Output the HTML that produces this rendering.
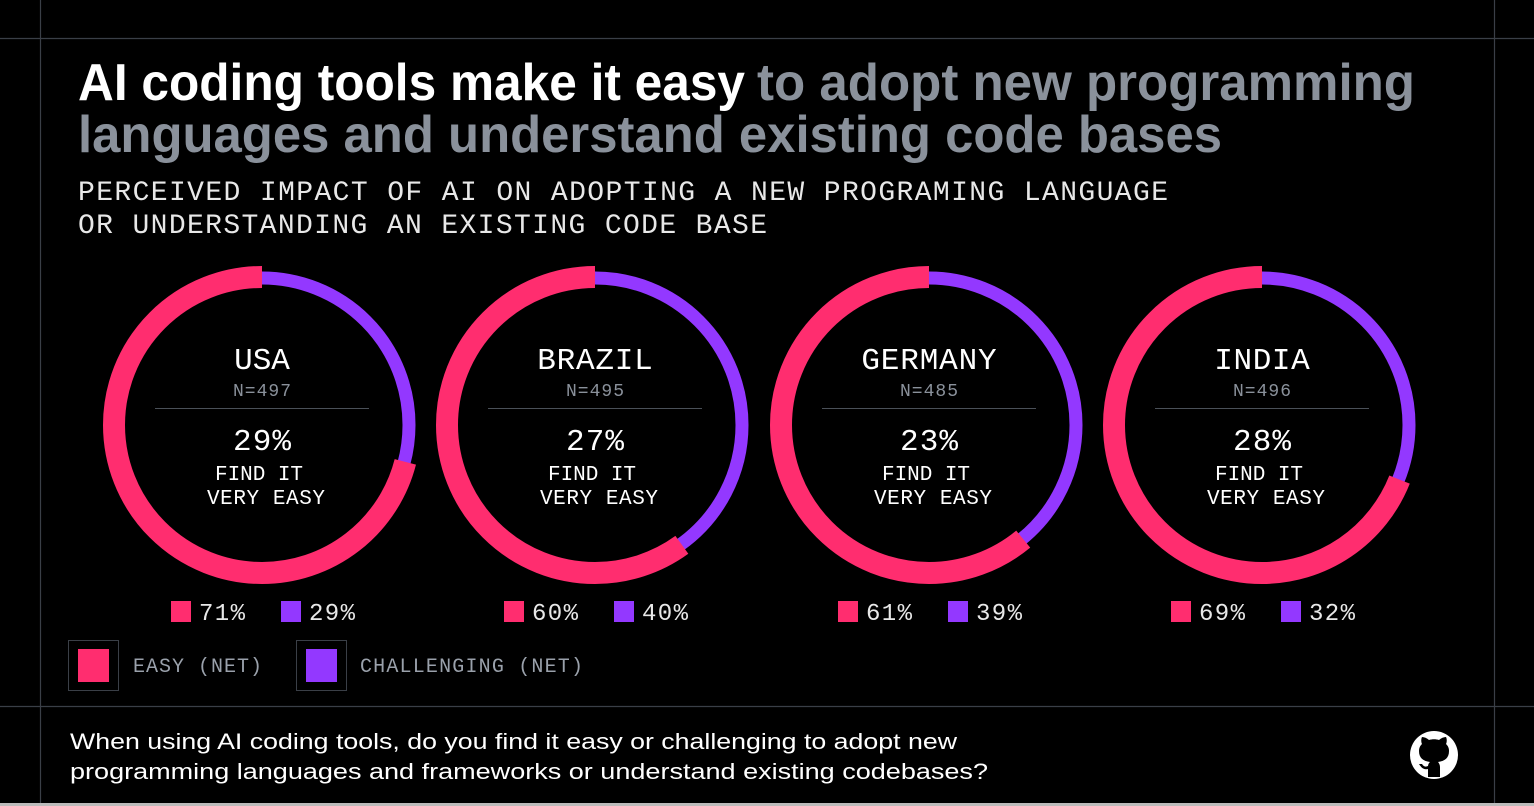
<!DOCTYPE html>
<html><head><meta charset="utf-8"><style>
html,body{margin:0;padding:0;background:#000;}
svg{display:block}
.m{font-family:"Liberation Mono","DejaVu Sans Mono",monospace}
.s{font-family:"Liberation Sans",sans-serif}
</style></head><body>
<svg width="1534" height="806" viewBox="0 0 1534 806" xmlns="http://www.w3.org/2000/svg">
<rect width="1534" height="806" fill="#000"/>
<g stroke="#3a3f47" stroke-width="1.2">
<line x1="0" y1="38.5" x2="1534" y2="38.5"/>
<line x1="40.5" y1="0" x2="40.5" y2="806"/>
<line x1="1494.5" y1="0" x2="1494.5" y2="806"/>
<line x1="0" y1="706.5" x2="1534" y2="706.5"/>
</g>
<rect x="0" y="803" width="1534" height="3" fill="#bbb"/>
<text class="s" x="78" y="100" font-size="52" font-weight="bold" fill="#fff" textLength="667" lengthAdjust="spacingAndGlyphs">AI coding tools make it easy</text>
<text class="s" x="757" y="100" font-size="52" font-weight="bold" fill="#8a919b" textLength="658" lengthAdjust="spacingAndGlyphs">to adopt new programming</text>
<text class="s" x="78" y="152" font-size="52" font-weight="bold" fill="#8a919b" textLength="1144" lengthAdjust="spacingAndGlyphs">languages and understand existing code bases</text>
<text class="m" x="78" y="200" font-size="28" fill="#e8e8e8" textLength="1090" lengthAdjust="spacing">PERCEIVED IMPACT OF AI ON ADOPTING A NEW PROGRAMING LANGUAGE</text>
<text class="m" x="78" y="233" font-size="28" fill="#e8e8e8" textLength="689" lengthAdjust="spacing">OR UNDERSTANDING AN EXISTING CODE BASE</text>

<g id="donuts"></g>

<g>
<rect x="68.5" y="640.5" width="50" height="50" fill="none" stroke="#3a3f47"/>
<rect x="78" y="649" width="31" height="33" fill="#ff2d6f"/>
<text class="m" x="133" y="672" font-size="20" fill="#9aa1ab" textLength="129" lengthAdjust="spacing">EASY (NET)</text>
<rect x="296.5" y="640.5" width="50" height="50" fill="none" stroke="#3a3f47"/>
<rect x="306" y="649" width="31" height="33" fill="#9338ff"/>
<text class="m" x="360" y="672" font-size="20" fill="#9aa1ab" textLength="223" lengthAdjust="spacing">CHALLENGING (NET)</text>
</g>
<text class="s" x="70" y="749" font-size="22" fill="#fff" textLength="887" lengthAdjust="spacingAndGlyphs">When using AI coding tools, do you find it easy or challenging to adopt new</text>
<text class="s" x="70" y="779" font-size="22" fill="#fff" textLength="918" lengthAdjust="spacingAndGlyphs">programming languages and frameworks or understand existing codebases?</text>
<g transform="translate(1434,755)">
<circle r="24" fill="#fff"/>
<path d="M-6,22 L-6,12 C-6,9 -5,8 -4,7 C-11,6 -15,3 -15,-4 C-15,-7 -14,-9 -12,-11 C-13,-13 -13,-16 -12,-18 C-10,-18 -7,-17 -5,-15 C-2,-16 2,-16 5,-15 C7,-17 10,-18 12,-18 C13,-16 13,-13 12,-11 C14,-9 15,-7 15,-4 C15,3 11,6 4,7 C5,8 6,10 6,12 L6,22 Z M-6,14 C-11,15 -13,12 -15,9 L-12,9 C-10,12 -8,12 -6,11 Z" fill="#000"/>
</g>
</svg>
<script>
(function(){
var data=[["USA","N=497","29%",0.29,"71%","29%"],["BRAZIL","N=495","27%",0.40,"60%","40%"],["GERMANY","N=485","23%",0.39,"61%","39%"],["INDIA","N=496","28%",0.31,"69%","32%"]];
var cx=[262,595,929,1262],cy=425,g=document.getElementById("donuts"),h="";
data.forEach(function(d,i){
var x=cx[i],C1=2*Math.PI*147,C2=2*Math.PI*148,p=d[3];
h+='<g transform="translate('+x+','+cy+') rotate(-90)">';
h+='<circle r="147" fill="none" stroke="#9338ff" stroke-width="13" stroke-dasharray="'+(p*C1+2)+' '+C1*2+'"/>';
h+='<circle r="148" fill="none" stroke="#ff2d6f" stroke-width="22" stroke-dasharray="'+((1-p)*C2)+' '+C2*2+'" stroke-dashoffset="'+(-p*C2)+'"/></g>';
var w=d[0].length*19.9;
h+='<text class="m" x="'+x+'" y="369" font-size="31" fill="#fff" text-anchor="middle" textLength="'+(w-4)+'" lengthAdjust="spacing">'+d[0]+'</text>';
h+='<text class="m" x="'+x+'" y="396" font-size="18" fill="#8a919b" text-anchor="middle" textLength="58" lengthAdjust="spacing">'+d[1]+'</text>';
h+='<line x1="'+(x-107)+'" y1="408.5" x2="'+(x+107)+'" y2="408.5" stroke="#4a5058" stroke-width="1"/>';
h+='<text class="m" x="'+x+'" y="450" font-size="31" fill="#fff" text-anchor="middle" textLength="58" lengthAdjust="spacing">'+d[2]+'</text>';
h+='<text class="m" x="'+(x-47)+'" y="480" font-size="21" fill="#fff" textLength="88" lengthAdjust="spacing">FIND IT</text>';
h+='<text class="m" x="'+(x-55)+'" y="504" font-size="21" fill="#fff" textLength="118" lengthAdjust="spacing">VERY EASY</text>';
h+='<rect x="'+(x-91)+'" y="601" width="20" height="21" fill="#ff2d6f"/>';
h+='<text class="m" x="'+(x-63)+'" y="620" font-size="24" fill="#e8e8e8" textLength="46" lengthAdjust="spacing">'+d[4]+'</text>';
h+='<rect x="'+(x+19)+'" y="601" width="20" height="21" fill="#9338ff"/>';
h+='<text class="m" x="'+(x+47)+'" y="620" font-size="24" fill="#e8e8e8" textLength="46" lengthAdjust="spacing">'+d[5]+'</text>';
});
g.innerHTML=h;
})();
</script>
</body></html>
